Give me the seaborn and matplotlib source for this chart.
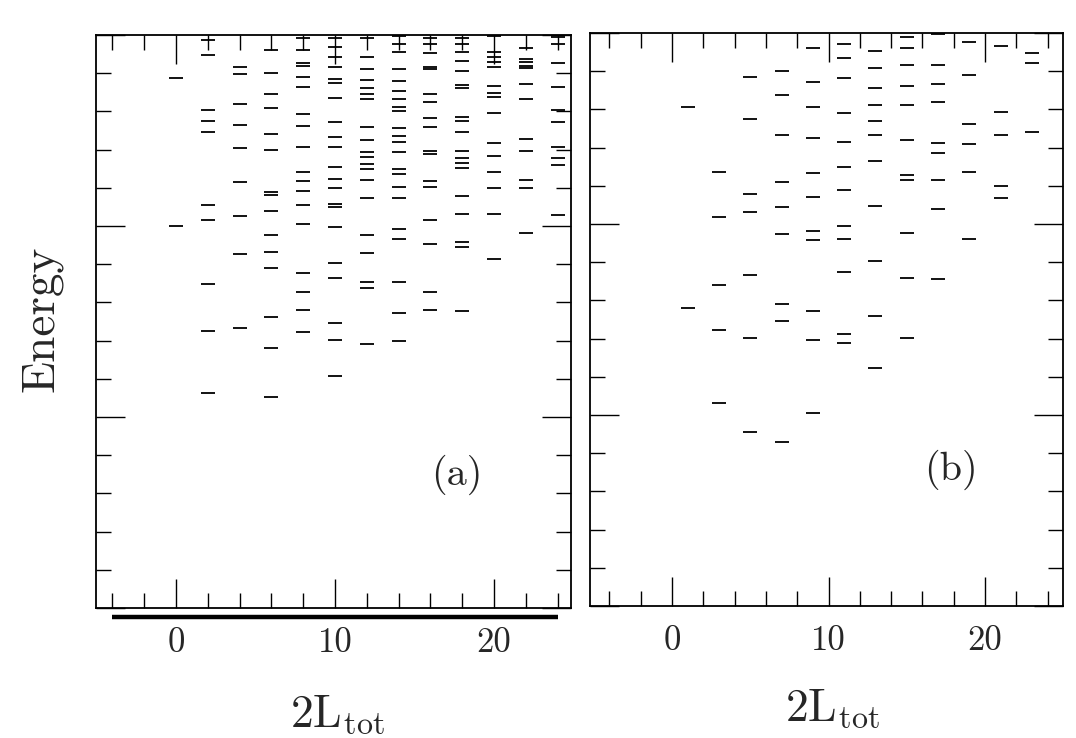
import numpy as np
import pandas as pd
import matplotlib
matplotlib.use("Agg")
import matplotlib.pyplot as plt
import matplotlib.transforms as mtransforms
from matplotlib.ticker import MultipleLocator, FixedLocator, NullFormatter
import seaborn as sns

# ---------------- data: level energies per 2L_tot column ----------------
# panel (a): even 2L_tot
a_L = [0, 2, 4, 6, 8, 10, 12, 14, 16, 18, 20, 22, 24]
a_00 = [13.87, 10.00]
a_02 = [14.87, 14.48, 13.04, 12.75, 12.46, 10.55, 10.16, 8.48, 7.25, 5.63]
a_04 = [14.16, 13.98, 13.19, 12.64, 12.04, 11.15, 10.26, 9.27, 7.33]
a_06 = [14.61, 14.01, 13.46, 13.09, 12.41, 11.99, 10.89, 10.81, 10.39, 9.76, 9.32, 8.90, 7.62, 6.81, 5.52]
a_08 = [14.92, 14.61, 14.27, 14.19, 13.90, 13.64, 12.93, 12.62, 12.07, 11.41, 11.18, 10.92, 10.55, 10.05, 8.77, 8.27, 7.80, 7.23]
a_10 = [14.92, 14.69, 14.42, 14.16, 13.85, 13.74, 13.35, 12.72, 12.33, 12.07, 11.54, 11.23, 10.99, 10.58, 10.50, 9.97, 9.03, 8.64, 7.46, 7.02, 6.07]
a_12 = [14.92, 14.42, 14.11, 13.82, 13.61, 13.46, 13.32, 12.59, 12.25, 11.94, 11.81, 11.62, 11.49, 11.20, 10.73, 9.76, 9.29, 8.53, 8.38, 6.91]
a_14 = [14.97, 14.76, 14.55, 14.11, 13.80, 13.53, 13.32, 13.12, 13.01, 12.57, 12.36, 12.20, 11.94, 11.49, 11.36, 11.02, 10.73, 9.92, 9.66, 8.53, 7.72, 6.99]
a_16 = [14.92, 14.76, 14.53, 14.16, 14.11, 13.46, 13.25, 12.83, 12.59, 11.96, 11.88, 11.18, 11.02, 10.16, 9.53, 8.27, 7.80]
a_18 = [14.92, 14.76, 14.55, 14.32, 14.06, 13.69, 13.61, 12.85, 12.75, 12.46, 11.96, 11.78, 11.65, 11.52, 10.79, 10.31, 9.58, 9.45, 7.77]
a_20 = [14.97, 14.55, 14.42, 14.29, 14.16, 13.66, 13.48, 13.38, 12.96, 12.17, 11.83, 11.41, 10.99, 10.31, 9.14]
a_22 = [14.66, 14.37, 14.29, 14.19, 14.14, 13.72, 13.32, 12.28, 11.96, 11.20, 10.99, 9.82]
a_24 = [14.95, 14.76, 14.27, 13.64, 13.04, 12.72, 12.07, 11.78, 11.60, 10.29]

# panel (b): odd 2L_tot
b_L = [1, 3, 5, 7, 9, 11, 13, 15, 17, 19, 21, 23]
b_01 = [13.06, 7.80]
b_03 = [11.36, 10.18, 8.40, 7.23, 5.31]
b_05 = [13.85, 12.75, 10.79, 10.31, 8.66, 7.02, 4.55]
b_07 = [14.01, 13.38, 12.33, 11.10, 10.45, 9.74, 7.91, 7.46, 4.29]
b_09 = [14.61, 13.72, 13.06, 12.25, 11.34, 10.71, 9.82, 9.58, 7.72, 6.96, 5.05]
b_11 = [14.71, 14.35, 13.82, 12.91, 12.15, 11.49, 10.89, 9.95, 9.61, 8.74, 7.12, 6.88]
b_13 = [14.53, 14.08, 13.56, 13.12, 12.70, 12.33, 11.65, 10.47, 9.03, 7.59, 6.23]
b_15 = [14.90, 14.61, 14.16, 13.61, 13.12, 12.20, 11.28, 11.15, 9.76, 8.59, 7.02]
b_17 = [14.97, 14.16, 13.66, 13.19, 12.12, 11.86, 11.15, 10.39, 8.56]
b_19 = [14.76, 13.90, 12.62, 12.09, 11.36, 9.61]
b_21 = [14.66, 12.93, 12.33, 10.99, 10.68]
b_23 = [14.48, 14.21, 12.41]

x_major = [0, 10, 20]
panel_labels = ["(a)", "(b)"]
x_title = r"$\mathrm{2L_{tot}}$"
y_title = "Energy"


def to_frame(Ls, cols):
    rows = []
    for L, es in zip(Ls, cols):
        for e in es:
            rows.append({"L": L, "E": e})
    return pd.DataFrame(rows)


df_a = to_frame(a_L, [a_00, a_02, a_04, a_06, a_08, a_10, a_12, a_14, a_16, a_18, a_20, a_22, a_24])
df_b = to_frame(b_L, [b_01, b_03, b_05, b_07, b_09, b_11, b_13, b_15, b_17, b_19, b_21, b_23])

# ---------------- style ----------------
sns.set_theme(style="ticks")
plt.rcParams["font.family"] = ["cmr10", "DejaVu Serif"]
plt.rcParams["mathtext.fontset"] = "cm"
plt.rcParams["axes.unicode_minus"] = False
plt.rcParams["axes.formatter.use_mathtext"] = True

W, H = 1076, 738
fig = plt.figure(figsize=(W / 100, H / 100), dpi=100)
fig.patch.set_facecolor("white")

ax1 = fig.add_axes([96 / W, 1 - 608 / H, 475 / W, 573 / H])
ax2 = fig.add_axes([590 / W, 1 - 606 / H, 473 / W, 573 / H])

for ax, df, xlim, lab, labpos in [
    (ax1, df_a, (-5.03, 24.84), panel_labels[0], (0.760, 0.232)),
    (ax2, df_b, (-5.24, 24.98), panel_labels[1], (0.763, 0.237)),
]:
    sns.scatterplot(data=df, x="L", y="E", marker="_", s=110, linewidth=1.3,
                    color="black", ax=ax, legend=False)
    ax.set_xlim(*xlim)
    ax.set_ylim(0, 15)
    ax.xaxis.set_major_locator(FixedLocator(x_major))
    ax.xaxis.set_minor_locator(MultipleLocator(2))
    ax.yaxis.set_major_locator(MultipleLocator(5))
    ax.yaxis.set_minor_locator(MultipleLocator(1))
    ax.yaxis.set_major_formatter(NullFormatter())
    ax.set_xticklabels([str(v) for v in x_major])
    ax.tick_params(which="both", direction="in", top=True, right=True,
                   width=1.0, color="black")
    ax.tick_params(which="major", length=21, labelsize=25, pad=14)
    ax.tick_params(which="minor", length=10.5)
    ax.set_xlabel("")
    ax.set_ylabel("")
    for sp in ax.spines.values():
        sp.set_linewidth(1.3)
        sp.set_color("black")
    ax.set_facecolor("white")
    ax.text(labpos[0], labpos[1], lab, transform=ax.transAxes,
            ha="center", va="center", fontsize=29)

# thick rule under panel (a), spanning the minor tick range
mt = [t for t in ax1.get_xticks(minor=True) if -5.03 <= t <= 24.84]
trans = mtransforms.blended_transform_factory(ax1.transData, ax1.transAxes)
ax1.plot([min(mt), max(mt)], [-0.0157, -0.0157], transform=trans, color="black",
         lw=3.2, clip_on=False, solid_capstyle="butt")

# axis titles
fig.text(337 / W, 1 - 727 / H, x_title, ha="center", va="baseline", fontsize=33)
fig.text(832 / W, 1 - 721 / H, x_title, ha="center", va="baseline", fontsize=33)
fig.text(53 / W, 1 - 319 / H, y_title, rotation=90, rotation_mode="anchor",
         ha="center", va="baseline", fontsize=34)

fig.savefig("out.png", dpi=100, facecolor="white")
